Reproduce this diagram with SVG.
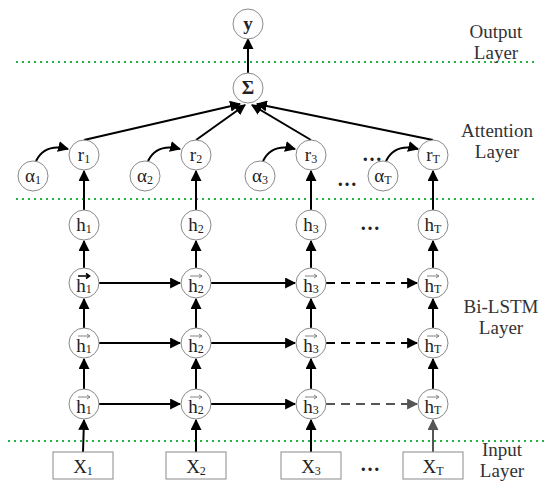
<svg xmlns="http://www.w3.org/2000/svg" width="550" height="490" viewBox="0 0 550 490">
<style>
.nd{fill:#fff;stroke:#8a8a8a;stroke-width:1}
.bx{fill:#fff;stroke:#8a8a8a;stroke-width:1}
.t{font-family:"Liberation Serif",serif;font-size:19px;fill:#222;text-anchor:middle}
.s{font-size:12px}
.lab{font-family:"Liberation Serif",serif;font-size:19px;fill:#333;text-anchor:middle}
.el{font-family:"Liberation Serif",serif;font-size:20px;fill:#222;text-anchor:middle;font-weight:bold}
.ar{stroke:#000;stroke-width:2;fill:none;marker-end:url(#ah)}
.ag{stroke:#555;stroke-width:2;fill:none;marker-end:url(#ahg)}
.ds{stroke-dasharray:9,6}
.gl{stroke:#22b545;stroke-width:2.2;stroke-dasharray:2,4;fill:none}
.va{stroke:#777;stroke-width:0.9;fill:none}
.vb{stroke:#000;stroke-width:1.6;fill:none}
</style>
<defs>
<marker id="ah" viewBox="0 0 10 10" refX="9" refY="5" markerWidth="11" markerHeight="11" markerUnits="userSpaceOnUse" orient="auto"><path d="M0,0 L10,5 L0,10 z" fill="#000"/></marker>
<marker id="ahg" viewBox="0 0 10 10" refX="9" refY="5" markerWidth="11" markerHeight="11" markerUnits="userSpaceOnUse" orient="auto"><path d="M0,0 L10,5 L0,10 z" fill="#555"/></marker>
</defs>

<g id="layer-lines">
<line class="gl" x1="16" y1="62" x2="534" y2="62"/>
<line class="gl" x1="16" y1="199" x2="534" y2="199"/>
<line class="gl" x1="8" y1="441" x2="544" y2="441"/>
</g>

<g id="connectors">
<line class="ar" x1="248" y1="73" x2="248" y2="39"/>
<line class="ar" x1="84" y1="140" x2="240" y2="104"/>
<line class="ar" x1="196" y1="140" x2="245" y2="105"/>
<line class="ar" x1="311" y1="140" x2="252" y2="105"/>
<line class="ar" x1="433" y1="140" x2="257" y2="104"/>
<path class="ar" d="M36,161 Q45,143 68,149"/>
<path class="ar" d="M148,161 Q157,143 180,149"/>
<path class="ar" d="M263,161 Q272,143 295,149"/>
<path class="ar" d="M386,161 Q395,143 418,149"/>
<line class="ar" x1="84" y1="210" x2="84" y2="171"/>
<line class="ar" x1="196" y1="210" x2="196" y2="171"/>
<line class="ar" x1="311" y1="210" x2="311" y2="171"/>
<line class="ar" x1="433" y1="210" x2="433" y2="171"/>
<line class="ar" x1="84" y1="268" x2="84" y2="241"/>
<line class="ar" x1="196" y1="268" x2="196" y2="241"/>
<line class="ar" x1="311" y1="268" x2="311" y2="241"/>
<line class="ar" x1="433" y1="268" x2="433" y2="241"/>
<line class="ar" x1="84" y1="328" x2="84" y2="299"/>
<line class="ar" x1="196" y1="328" x2="196" y2="299"/>
<line class="ar" x1="311" y1="328" x2="311" y2="299"/>
<line class="ar" x1="433" y1="328" x2="433" y2="299"/>
<line class="ar" x1="84" y1="389" x2="84" y2="359"/>
<line class="ar" x1="196" y1="389" x2="196" y2="359"/>
<line class="ar" x1="311" y1="389" x2="311" y2="359"/>
<line class="ar" x1="433" y1="389" x2="433" y2="359"/>
<line class="ar" x1="83" y1="452" x2="84" y2="420"/>
<line class="ar" x1="196" y1="452" x2="196" y2="420"/>
<line class="ar" x1="311" y1="452" x2="311" y2="420"/>
<line class="ag" x1="433" y1="452" x2="433" y2="420"/>
<line class="ar" x1="99" y1="283" x2="180" y2="283"/>
<line class="ar" x1="211" y1="283" x2="295" y2="283"/>
<line class="ar ds" x1="326" y1="283" x2="417" y2="283"/>
<line class="ar" x1="99" y1="343" x2="180" y2="343"/>
<line class="ar" x1="211" y1="343" x2="295" y2="343"/>
<line class="ar ds" x1="326" y1="343" x2="417" y2="343"/>
<line class="ar" x1="99" y1="404" x2="180" y2="404"/>
<line class="ar" x1="211" y1="404" x2="295" y2="404"/>
<line class="ag ds" x1="326" y1="404" x2="417" y2="404"/>
</g>

<g id="node-y"><circle class="nd" cx="248" cy="24" r="15"/><text class="t" x="248" y="30" font-weight="bold">y</text></g>
<g id="node-sum"><circle class="nd" cx="248" cy="88" r="15"/><text class="t" x="248" y="94" font-weight="bold" font-size="17">Σ</text></g>

<g id="node-r1"><circle class="nd" cx="84" cy="155" r="15"/><text class="t" x="84" y="161">r<tspan class="s" dy="2">1</tspan></text></g>
<g id="node-r2"><circle class="nd" cx="196" cy="155" r="15"/><text class="t" x="196" y="161">r<tspan class="s" dy="2">2</tspan></text></g>
<g id="node-r3"><circle class="nd" cx="311" cy="155" r="15"/><text class="t" x="311" y="161">r<tspan class="s" dy="2">3</tspan></text></g>
<g id="node-rT"><circle class="nd" cx="433" cy="155" r="15"/><text class="t" x="433" y="161">r<tspan class="s" dy="2">T</tspan></text></g>

<g id="node-a1"><circle class="nd" cx="33" cy="176" r="15"/><text class="t" x="33" y="182">α<tspan class="s" dy="2">1</tspan></text></g>
<g id="node-a2"><circle class="nd" cx="145" cy="176" r="15"/><text class="t" x="145" y="182">α<tspan class="s" dy="2">2</tspan></text></g>
<g id="node-a3"><circle class="nd" cx="260" cy="176" r="15"/><text class="t" x="260" y="182">α<tspan class="s" dy="2">3</tspan></text></g>
<g id="node-aT"><circle class="nd" cx="383" cy="176" r="15"/><text class="t" x="383" y="182">α<tspan class="s" dy="2">T</tspan></text></g>

<g id="node-h1"><circle class="nd" cx="84" cy="225" r="15"/><text class="t" x="84" y="231">h<tspan class="s" dy="2">1</tspan></text></g>
<g id="node-h2"><circle class="nd" cx="196" cy="225" r="15"/><text class="t" x="196" y="231">h<tspan class="s" dy="2">2</tspan></text></g>
<g id="node-h3"><circle class="nd" cx="311" cy="225" r="15"/><text class="t" x="311" y="231">h<tspan class="s" dy="2">3</tspan></text></g>
<g id="node-hT"><circle class="nd" cx="433" cy="225" r="15"/><text class="t" x="433" y="231">h<tspan class="s" dy="2">T</tspan></text></g>

<g id="node-f1-1"><circle class="nd" cx="84" cy="283" r="15"/><path class="vb" d="M78,276 H89 M86,273.5 L89.5,276 L86,278.5"/><text class="t" x="84" y="292">h<tspan class="s" dy="1">1</tspan></text></g>
<g id="node-f1-2"><circle class="nd" cx="196" cy="283" r="15"/><path class="va" d="M190,276 H202 M199,274 L202,276 L199,278"/><text class="t" x="196" y="292">h<tspan class="s" dy="1">2</tspan></text></g>
<g id="node-f1-3"><circle class="nd" cx="311" cy="283" r="15"/><path class="va" d="M305,276 H317 M314,274 L317,276 L314,278"/><text class="t" x="311" y="292">h<tspan class="s" dy="1">3</tspan></text></g>
<g id="node-f1-T"><circle class="nd" cx="433" cy="283" r="15"/><path class="va" d="M427,276 H439 M436,274 L439,276 L436,278"/><text class="t" x="433" y="292">h<tspan class="s" dy="1">T</tspan></text></g>

<g id="node-f2-1"><circle class="nd" cx="84" cy="343" r="15"/><path class="va" d="M78,336 H90 M87,334 L90,336 L87,338"/><text class="t" x="84" y="352">h<tspan class="s" dy="1">1</tspan></text></g>
<g id="node-f2-2"><circle class="nd" cx="196" cy="343" r="15"/><path class="va" d="M190,336 H202 M199,334 L202,336 L199,338"/><text class="t" x="196" y="352">h<tspan class="s" dy="1">2</tspan></text></g>
<g id="node-f2-3"><circle class="nd" cx="311" cy="343" r="15"/><path class="va" d="M305,336 H317 M314,334 L317,336 L314,338"/><text class="t" x="311" y="352">h<tspan class="s" dy="1">3</tspan></text></g>
<g id="node-f2-T"><circle class="nd" cx="433" cy="343" r="15"/><path class="va" d="M427,336 H439 M436,334 L439,336 L436,338"/><text class="t" x="433" y="352">h<tspan class="s" dy="1">T</tspan></text></g>

<g id="node-f3-1"><circle class="nd" cx="84" cy="404" r="15"/><path class="va" d="M78,397 H90 M87,395 L90,397 L87,399"/><text class="t" x="84" y="413">h<tspan class="s" dy="1">1</tspan></text></g>
<g id="node-f3-2"><circle class="nd" cx="196" cy="404" r="15"/><path class="va" d="M190,397 H202 M199,395 L202,397 L199,399"/><text class="t" x="196" y="413">h<tspan class="s" dy="1">2</tspan></text></g>
<g id="node-f3-3"><circle class="nd" cx="311" cy="404" r="15"/><path class="va" d="M305,397 H317 M314,395 L317,397 L314,399"/><text class="t" x="311" y="413">h<tspan class="s" dy="1">3</tspan></text></g>
<g id="node-f3-T"><circle class="nd" cx="433" cy="404" r="15"/><path class="va" d="M427,397 H439 M436,395 L439,397 L436,399"/><text class="t" x="433" y="413">h<tspan class="s" dy="1">T</tspan></text></g>

<g id="node-x1"><rect class="bx" x="53" y="452" width="60" height="27"/><text class="t" x="83" y="473" font-size="20">X<tspan class="s" font-size="13" dy="2">1</tspan></text></g>
<g id="node-x2"><rect class="bx" x="166" y="452" width="60" height="27"/><text class="t" x="196" y="473" font-size="20">X<tspan class="s" font-size="13" dy="2">2</tspan></text></g>
<g id="node-x3"><rect class="bx" x="281" y="452" width="60" height="27"/><text class="t" x="311" y="473" font-size="20">X<tspan class="s" font-size="13" dy="2">3</tspan></text></g>
<g id="node-xT"><rect class="bx" x="403" y="452" width="60" height="27"/><text class="t" x="433" y="473" font-size="20">X<tspan class="s" font-size="13" dy="2">T</tspan></text></g>

<g id="ellipses">
<text class="el" x="372" y="161">…</text>
<text class="el" x="347" y="186">…</text>
<text class="el" x="370" y="230">…</text>
<text class="el" x="370" y="471">…</text>
</g>

<g id="labels">
<text class="lab" x="496" y="38">Output</text>
<text class="lab" x="496" y="59">Layer</text>
<text class="lab" x="497" y="137">Attention</text>
<text class="lab" x="497" y="158">Layer</text>
<text class="lab" x="501" y="313">Bi-LSTM</text>
<text class="lab" x="501" y="334">Layer</text>
<text class="lab" x="502" y="456">Input</text>
<text class="lab" x="502" y="477">Layer</text>
</g>
</svg>
